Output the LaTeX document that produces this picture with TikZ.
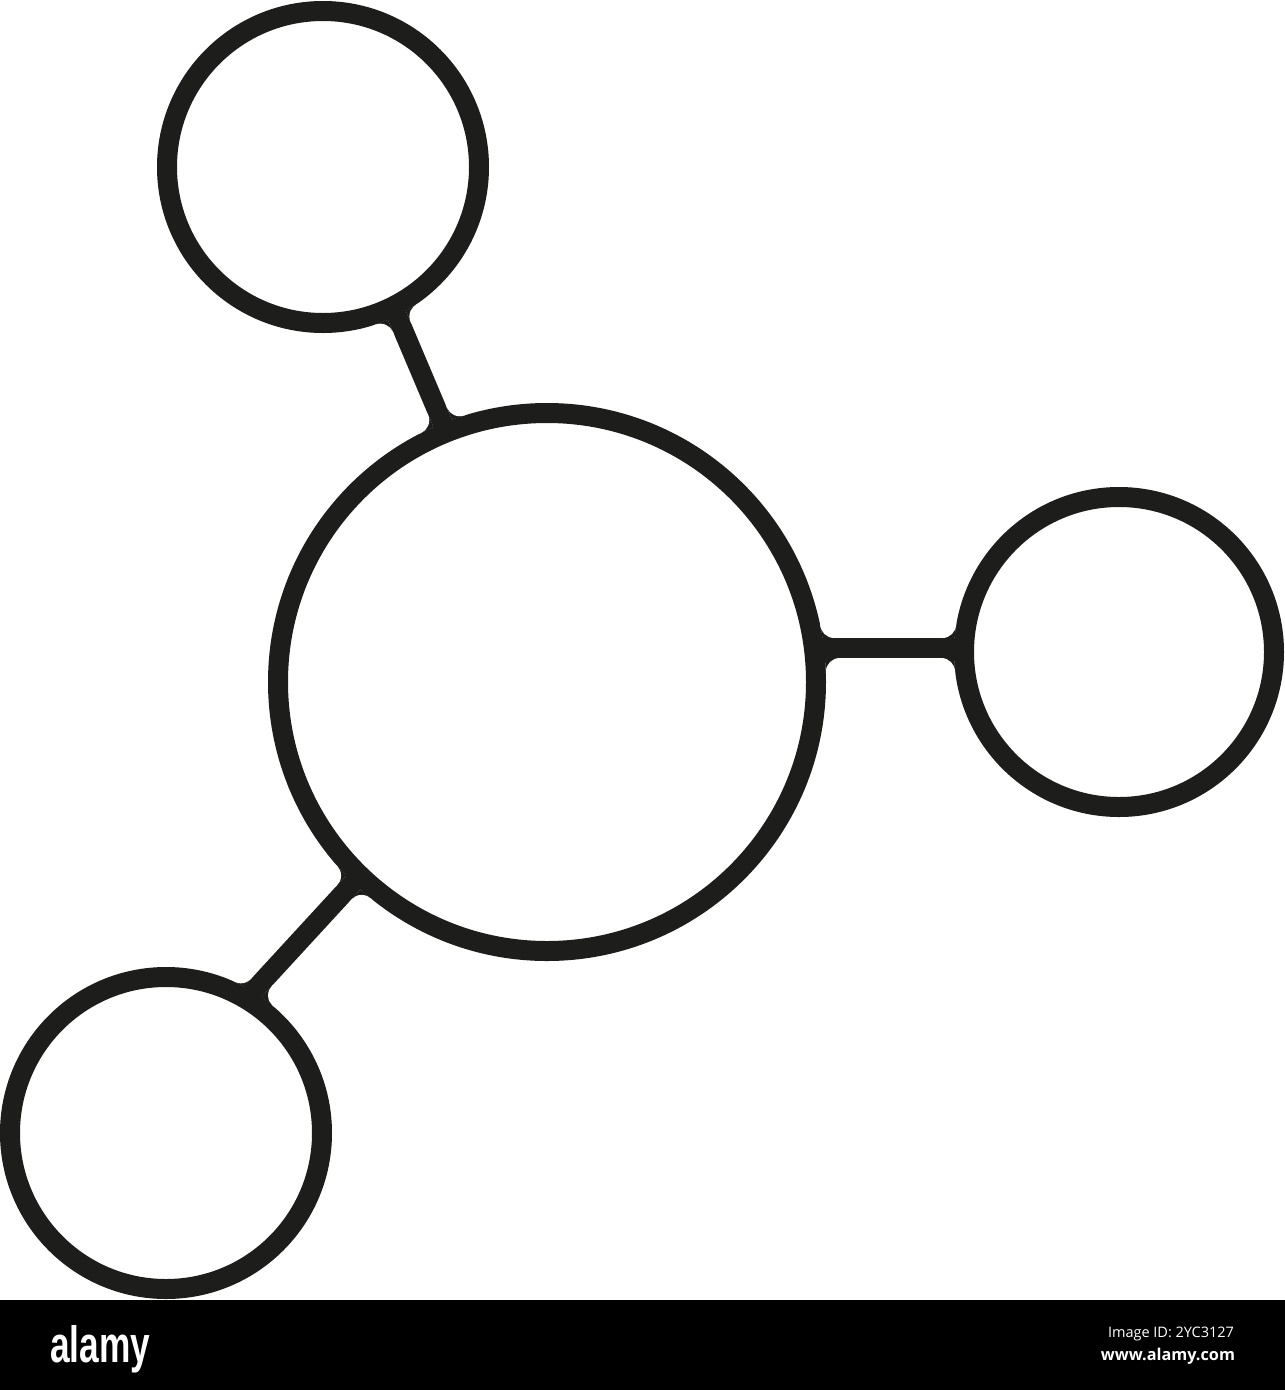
\documentclass[tikz,border=0pt]{standalone}
\usepackage{fontspec}
\setmainfont{Open Sans}
\newfontfamily\logofont{Liberation Sans}
\usetikzlibrary{calc}
\definecolor{ink}{HTML}{1D1D1B}
\def\bandw{20}
\def\filr{14}
\newcommand\filletpair[7]{% Ox Oy Ro Px Py ux uy
 \foreach \fs in {1,-1}{%
  \pgfmathsetmacro\fqx{((#4)-(#1))/100}%
  \pgfmathsetmacro\fqy{((#5)-(#2))/100}%
  \pgfmathsetmacro\fdn{sqrt((#6)*(#6)+(#7)*(#7))}%
  \pgfmathsetmacro\fux{(#6)/(\fdn)}%
  \pgfmathsetmacro\fuy{(#7)/(\fdn)}%
  \pgfmathsetmacro\fnx{0-(\fuy)*(\fs)}%
  \pgfmathsetmacro\fny{(\fux)*(\fs)}%
  \pgfmathsetmacro\fa{(\fqx)*(\fux)+(\fqy)*(\fuy)}%
  \pgfmathsetmacro\fb{(\fqx)*(\fnx)+(\fqy)*(\fny)}%
  \pgfmathsetmacro\fw{\bandw/200}%
  \pgfmathsetmacro\ff{\filr/100}%
  \pgfmathsetmacro\fR{(#3)/100}%
  \pgfmathsetmacro\ftF{0-(\fa)+sqrt((\fR+\ff)^2-((\fb)+\fw+\ff)^2)}%
  \pgfmathsetmacro\ftC{0-(\fa)+sqrt((\fR)^2-((\fb)+\fw)^2)}%
  \pgfmathsetmacro\fFx{(#4)+100*((\ftF)*(\fux)+(\fw+\ff)*(\fnx))}%
  \pgfmathsetmacro\fFy{(#5)+100*((\ftF)*(\fuy)+(\fw+\ff)*(\fny))}%
  \pgfmathsetmacro\fTx{(#4)+100*((\ftF)*(\fux)+(\fw)*(\fnx))}%
  \pgfmathsetmacro\fTy{(#5)+100*((\ftF)*(\fuy)+(\fw)*(\fny))}%
  \pgfmathsetmacro\fCx{(#4)+100*((\ftC)*(\fux)+(\fw)*(\fnx))}%
  \pgfmathsetmacro\fCy{(#5)+100*((\ftC)*(\fuy)+(\fw)*(\fny))}%
  \pgfmathsetmacro\fSx{(#1)+((\fR)/(\fR+\ff))*((\fFx)-(#1))}%
  \pgfmathsetmacro\fSy{(#2)+((\fR)/(\fR+\ff))*((\fFy)-(#2))}%
  \fill[ink] (\fTx,\fTy) -- (\fCx,\fCy) -- (\fSx,\fSy) -- (\fFx,\fFy) -- cycle;
  \fill[white] (\fFx,\fFy) circle[radius=\filr];
 }}
\tikzset{
  ring/.style={circle, draw=ink, line width=20pt, inner sep=0pt, outer sep=0pt, minimum size=#1},
  band/.style={draw=ink, line width=\bandw pt},
  bartext/.style={text=white, inner sep=0pt, outer sep=0pt}
}
\begin{document}
\begin{tikzpicture}[x=1pt,y=-1pt]
\useasboundingbox (0,0) rectangle (1285,1390);
\fill[white] (0,0) rectangle (1285,1390);
% circles
\node[ring=538pt] (hub) at (547,682) {};
\node[ring=312pt] (tl) at (323,167) {};
\node[ring=310pt] (rt) at (1119,652) {};
\node[ring=312pt] (bl) at (166,1133) {};
% connector end points
\coordinate (tlA) at (447,433.6);
\coordinate (tlB) at (393.2,306.6);
\coordinate (rtA) at (814,648);
\coordinate (rtB) at (964,648);
\coordinate (blA) at (360.2,875);
\coordinate (blB) at (245.8,999.4);
\draw[band] (tlA) -- (tlB);
\draw[band] (rtA) -- (rtB);
\draw[band] (blA) -- (blB);
% fillets
\filletpair{547}{682}{279}{415.8}{360}{-0.39}{-0.92}
\filletpair{323}{167}{166}{415.8}{360}{0.39}{0.92}
\filletpair{547}{682}{279}{890}{648}{1}{0}
\filletpair{1119}{652}{165}{890}{648}{-1}{0}
\filletpair{547}{682}{279}{325}{913.3}{-0.677}{0.736}
\filletpair{166}{1133}{166}{325}{913.3}{0.677}{-0.736}
% bottom bar
\fill[black] (0,1300) rectangle (1285,1390);
\node[bartext, anchor=base west] (logo) at (50,1362) {\resizebox{100pt}{37pt}{\logofont\bfseries alamy}};
\node[bartext, anchor=base east] (imgid) at (1234,1337) {\resizebox{126pt}{!}{Image ID: 2YC3127}};
\node[bartext, anchor=base east] (url) at (1235,1360) {\resizebox{134pt}{!}{\bfseries www.alamy.com}};
\end{tikzpicture}
\end{document}
